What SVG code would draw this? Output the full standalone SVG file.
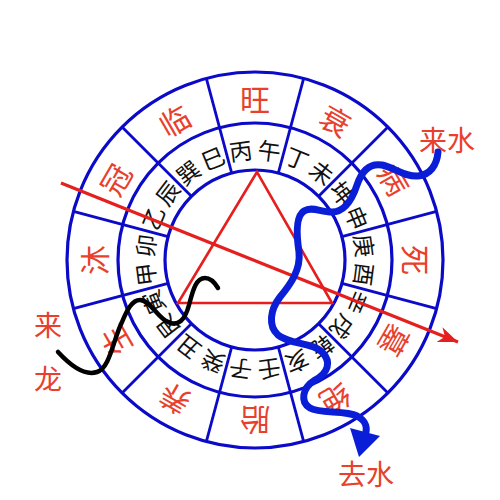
<svg xmlns="http://www.w3.org/2000/svg" width="500" height="500" viewBox="0 0 500 500">
<style>
.ring{fill:none;stroke:#0a0ac8;stroke-width:3.2}
.div{stroke:#0a0ac8;stroke-width:2.8}
.outer{font-family:"Noto Sans CJK SC","Noto Sans CJK JP",sans-serif;font-size:30px;fill:#e8402c;text-anchor:middle;dominant-baseline:central}
.inner{font-family:"Noto Sans CJK SC","Noto Sans CJK JP",sans-serif;font-size:23px;fill:#111;text-anchor:middle;dominant-baseline:central}
.lab{font-family:"Noto Sans CJK SC","Noto Sans CJK JP",sans-serif;font-size:28px;fill:#e8402c;text-anchor:middle;dominant-baseline:central}
</style>
<defs>
<marker id="ra" markerWidth="22" markerHeight="16" refX="20" refY="8" orient="auto" markerUnits="userSpaceOnUse">
<path d="M0,0 L20,8 L0,16 L6,8 z" fill="#e61e1e"/>
</marker>
</defs>
<rect width="500" height="500" fill="#fff"/>
<g id="compass">
<circle class="ring" cx="255" cy="260" r="188"/>
<circle class="ring" cx="255" cy="260" r="137"/>
<circle class="ring" cx="255" cy="260" r="90"/>
<g id="dividers">
<line class="div" x1="255" y1="170" x2="255" y2="72" transform="rotate(15 255 260)"/>
<line class="div" x1="255" y1="170" x2="255" y2="72" transform="rotate(45 255 260)"/>
<line class="div" x1="255" y1="170" x2="255" y2="72" transform="rotate(75 255 260)"/>
<line class="div" x1="255" y1="170" x2="255" y2="72" transform="rotate(105 255 260)"/>
<line class="div" x1="255" y1="170" x2="255" y2="72" transform="rotate(135 255 260)"/>
<line class="div" x1="255" y1="170" x2="255" y2="72" transform="rotate(165 255 260)"/>
<line class="div" x1="255" y1="170" x2="255" y2="72" transform="rotate(195 255 260)"/>
<line class="div" x1="255" y1="170" x2="255" y2="72" transform="rotate(225 255 260)"/>
<line class="div" x1="255" y1="170" x2="255" y2="72" transform="rotate(255 255 260)"/>
<line class="div" x1="255" y1="170" x2="255" y2="72" transform="rotate(285 255 260)"/>
<line class="div" x1="255" y1="170" x2="255" y2="72" transform="rotate(315 255 260)"/>
<line class="div" x1="255" y1="170" x2="255" y2="72" transform="rotate(345 255 260)"/>
</g>
<g id="outer-ring">
<text class="outer" x="255" y="98" transform="rotate(0 255 260)">旺</text>
<text class="outer" x="255" y="98" transform="rotate(30 255 260)">衰</text>
<text class="outer" x="255" y="98" transform="rotate(60 255 260)">病</text>
<text class="outer" x="255" y="98" transform="rotate(90 255 260)">死</text>
<text class="outer" x="255" y="98" transform="rotate(120 255 260)">墓</text>
<text class="outer" x="255" y="98" transform="rotate(150 255 260)">绝</text>
<text class="outer" x="255" y="98" transform="rotate(180 255 260)">胎</text>
<text class="outer" x="255" y="98" transform="rotate(210 255 260)">养</text>
<text class="outer" x="255" y="98" transform="rotate(240 255 260)">生</text>
<text class="outer" x="255" y="98" transform="rotate(270 255 260)">沐</text>
<text class="outer" x="255" y="98" transform="rotate(300 255 260)">冠</text>
<text class="outer" x="255" y="98" transform="rotate(330 255 260)">临</text>
</g>
<g id="inner-ring">
<text class="inner" x="255" y="149" transform="rotate(7.5 255 260)">午</text>
<text class="inner" x="255" y="149" transform="rotate(22.5 255 260)">丁</text>
<text class="inner" x="255" y="149" transform="rotate(37.5 255 260)">未</text>
<text class="inner" x="255" y="149" transform="rotate(52.5 255 260)">坤</text>
<text class="inner" x="255" y="149" transform="rotate(67.5 255 260)">申</text>
<text class="inner" x="255" y="149" transform="rotate(82.5 255 260)">庚</text>
<text class="inner" x="255" y="149" transform="rotate(97.5 255 260)">酉</text>
<text class="inner" x="255" y="149" transform="rotate(112.5 255 260)">辛</text>
<text class="inner" x="255" y="149" transform="rotate(127.5 255 260)">戌</text>
<text class="inner" x="255" y="149" transform="rotate(142.5 255 260)">乾</text>
<text class="inner" x="255" y="149" transform="rotate(157.5 255 260)">亥</text>
<text class="inner" x="255" y="149" transform="rotate(172.5 255 260)">壬</text>
<text class="inner" x="255" y="149" transform="rotate(187.5 255 260)">子</text>
<text class="inner" x="255" y="149" transform="rotate(202.5 255 260)">癸</text>
<text class="inner" x="255" y="149" transform="rotate(217.5 255 260)">丑</text>
<text class="inner" x="255" y="149" transform="rotate(232.5 255 260)">艮</text>
<text class="inner" x="255" y="149" transform="rotate(247.5 255 260)">寅</text>
<text class="inner" x="255" y="149" transform="rotate(262.5 255 260)">甲</text>
<text class="inner" x="255" y="149" transform="rotate(277.5 255 260)">卯</text>
<text class="inner" x="255" y="149" transform="rotate(292.5 255 260)">乙</text>
<text class="inner" x="255" y="149" transform="rotate(307.5 255 260)">辰</text>
<text class="inner" x="255" y="149" transform="rotate(322.5 255 260)">巽</text>
<text class="inner" x="255" y="149" transform="rotate(337.5 255 260)">巳</text>
<text class="inner" x="255" y="149" transform="rotate(352.5 255 260)">丙</text>
</g>
</g>
<g id="triangle">
<polygon points="257,172 178,303 332,303" fill="none" stroke="#e61e1e" stroke-width="2.6"/>
</g>
<g id="connectors">
<line x1="61" y1="183" x2="458" y2="342" stroke="#e61e1e" stroke-width="3.2" marker-end="url(#ra)"/>
<path id="river" d="M438,152 C437,165 430,175 418,176 C405,177 395,168 382,165 C370,163 362,170 357,185 C352,200 345,212 332,212 C320,212 312,206 304,211 C296,216 296,232 299,252 C301,270 290,285 280,297 C270,310 268,326 278,335 C290,345 312,342 322,352 C332,362 328,373 315,380 C302,388 300,402 310,408 C320,414 345,410 357,416 C366,421 367,426 366,432" fill="none" stroke="#0a1ed8" stroke-width="7" stroke-linecap="round"/>
<polygon points="350,428 380,436 359,457" fill="#0a1ed8"/>
<path id="dragon" d="M58,352 C70,365 85,376 97,372 C110,368 113,340 122,322 C127,310 132,300 140,300 C150,300 158,318 168,322 C178,327 185,320 189,305 C193,290 196,278 205,278 C210,278 215,283 218,288" fill="none" stroke="#000" stroke-width="4.5" stroke-linecap="round"/>
</g>
<g id="labels">
<text class="lab" x="447" y="139">来水</text>
<text class="lab" x="366" y="473">去水</text>
<text class="lab" x="48" y="324">来</text>
<text class="lab" x="48" y="378">龙</text>
</g>
</svg>
